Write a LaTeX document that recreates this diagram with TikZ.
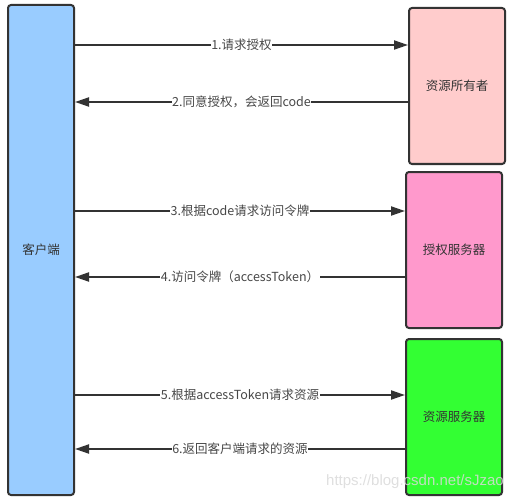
\documentclass[tikz,border=0pt]{standalone}
\usepackage{fontspec}
\setmainfont{Noto Sans CJK SC}
\newfontfamily\markfont{Liberation Sans}
\usetikzlibrary{arrows.meta,positioning}

\definecolor{clientblue}{HTML}{99CCFF}
\definecolor{ownerpink}{HTML}{FFCCCC}
\definecolor{authpink}{HTML}{FF99CC}
\definecolor{resgreen}{HTML}{33FF33}
\definecolor{linegray}{HTML}{333333}

\begin{document}
\begin{tikzpicture}[x=1pt, y=-1pt, font=\fontsize{12.5}{15}\selectfont]
\tikzset{
    roundbox/.style={rectangle, rounded corners=3pt, draw=linegray, line width=2pt, text=linegray, inner sep=0pt},
    sidebox/.style={roundbox, minimum width=96pt, minimum height=156pt},
    myarrow/.style={-{Triangle[length=14pt, width=9pt]}, draw=linegray, line width=2pt},
    steplabel/.style={fill=white, inner xsep=0.5pt, inner ysep=1pt, text=linegray!90, midway}
}
\useasboundingbox (0,0) rectangle (514,500);
\node[roundbox, fill=clientblue, minimum width=66pt, minimum height=490pt] (client) at (41,250) {客户端};
\node[sidebox, fill=ownerpink] (owner) at (457,86) {资源所有者};
\node[sidebox, fill=authpink] (authsrv) at (454,250) {授权服务器};
\node[sidebox, fill=resgreen] (ressrv) at (454,417) {资源服务器};

% one row per message
\draw[myarrow] (client.east |- 0,45) -- (owner.west |- 0,45) node[steplabel] {1.请求授权};
\draw[myarrow] (owner.west |- 0,102) -- (client.east |- 0,102) node[steplabel] {2.同意授权，会返回code};
\draw[myarrow] (client.east |- 0,211) -- (authsrv.west |- 0,211) node[steplabel] {3.根据code请求访问令牌};
\draw[myarrow] (authsrv.west |- 0,277) -- (client.east |- 0,277) node[steplabel] {4.访问令牌（accessToken）};
\draw[myarrow] (client.east |- 0,395) -- (ressrv.west |- 0,395) node[steplabel] {5.根据accessToken请求资源};
\draw[myarrow] (ressrv.west |- 0,449) -- (client.east |- 0,449) node[steplabel] {6.返回客户端请求的资源};

\node[font=\markfont\fontsize{15}{17}\selectfont, text=white!70!gray, opacity=0.85, anchor=east, inner sep=0pt] (mark) at (504,482) {https://blog.csdn.net/sJzao};
\end{tikzpicture}
\end{document}
